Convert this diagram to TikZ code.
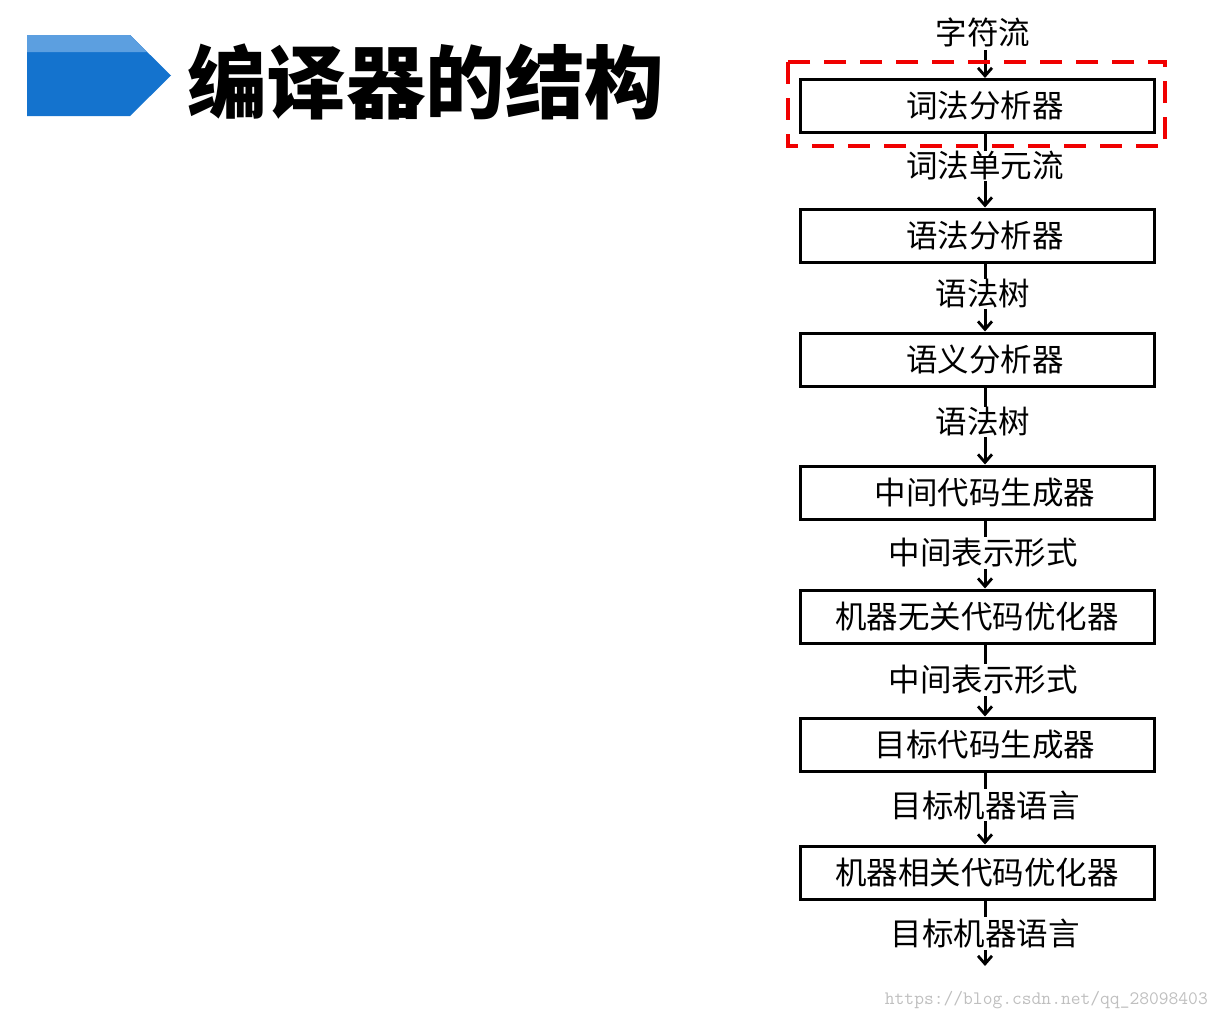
\documentclass[tikz,border=0pt]{standalone}
\usepackage{fontspec}
\setmainfont{Noto Sans CJK SC}
\newfontfamily\cjk{Noto Sans CJK SC}
\usetikzlibrary{arrows.meta}
\definecolor{tblue}{HTML}{1473CE}
\definecolor{tblueL}{HTML}{5C9FE0}
\definecolor{dred}{HTML}{F00000}
\begin{document}
\begin{tikzpicture}[x=1pt,y=-1pt,
  stagebox/.style={draw=black,line width=3pt,minimum width=354pt,minimum height=53pt,inner sep=0pt,font=\cjk\fontsize{31.5}{31.5}\selectfont},
  flowlabel/.style={inner sep=1pt,fill=white,font=\cjk\fontsize{31.5}{31.5}\selectfont},
  flow/.style={line width=3pt,-{Straight Barb[length=8pt,width=14pt,line width=2.8pt]}}]
\useasboundingbox (0,0) rectangle (1218,1020);
% title arrow
\fill[tblue] (27,35) -- (130,35) -- (171,75.5) -- (130,116) -- (27,116) -- cycle;
\fill[tblueL] (27,35) -- (130,35) -- (147,52) -- (27,52) -- cycle;
\node[anchor=west,inner sep=0pt,font=\cjk\bfseries\fontsize{79.5}{79.5}\selectfont] (title) at (187,82) {编译器的结构};
% boxes
\node[stagebox] (b1) at (977,106) {\hspace*{16pt}词法分析器};
\node[stagebox] (b2) at (977,235.5) {\hspace*{16pt}语法分析器};
\node[stagebox] (b3) at (977,359.5) {\hspace*{16pt}语义分析器};
\node[stagebox] (b4) at (977,492.5) {\hspace*{16pt}中间代码生成器};
\node[stagebox] (b5) at (977,616.5) {\hspace*{0pt}机器无关代码优化器};
\node[stagebox] (b6) at (977,744.5) {\hspace*{16pt}目标代码生成器};
\node[stagebox] (b7) at (977,872.5) {\hspace*{0pt}机器相关代码优化器};
\coordinate (end) at (985,966);
% connectors
\draw[flow] ([xshift=8pt]b1.south) -- ([xshift=8pt]b2.north);
\draw[flow] ([xshift=8pt]b2.south) -- ([xshift=8pt]b3.north);
\draw[flow] ([xshift=8pt]b3.south) -- ([xshift=8pt]b4.north);
\draw[flow] ([xshift=8pt]b4.south) -- ([xshift=8pt]b5.north);
\draw[flow] ([xshift=8pt]b5.south) -- ([xshift=8pt]b6.north);
\draw[flow] ([xshift=8pt]b6.south) -- ([xshift=8pt]b7.north);
\draw[line width=3pt] ([xshift=8pt]b7.south) -- (985,925);
% labels
\node[flowlabel] (l0) at (983,32) {字符流};
\node[flowlabel] (l1) at (985,166) {词法单元流};
\node[flowlabel] (l2) at (983,294) {语法树};
\node[flowlabel] (l3) at (983,422) {语法树};
\node[flowlabel] (l4) at (983,553) {中间表示形式};
\node[flowlabel] (l5) at (983,680) {中间表示形式};
\node[flowlabel] (l6) at (985,805) {目标机器语言};
\node[flowlabel] (l7) at (985,933) {目标机器语言};
\draw[flow] (985,50) -- ([xshift=8pt]b1.north);
\draw[flow] (985,950) -- (end);
% red dashed highlight
\draw[dred,line width=4pt,dash pattern=on 22pt off 14pt] (788,62) rectangle (1165,146);
% watermark
\node[anchor=east,inner sep=0pt,text=black!25,font=\ttfamily\fontsize{19}{19}\selectfont] (wm) at (1208,1000) {https://blog.csdn.net/qq\_28098403};
\end{tikzpicture}
\end{document}
